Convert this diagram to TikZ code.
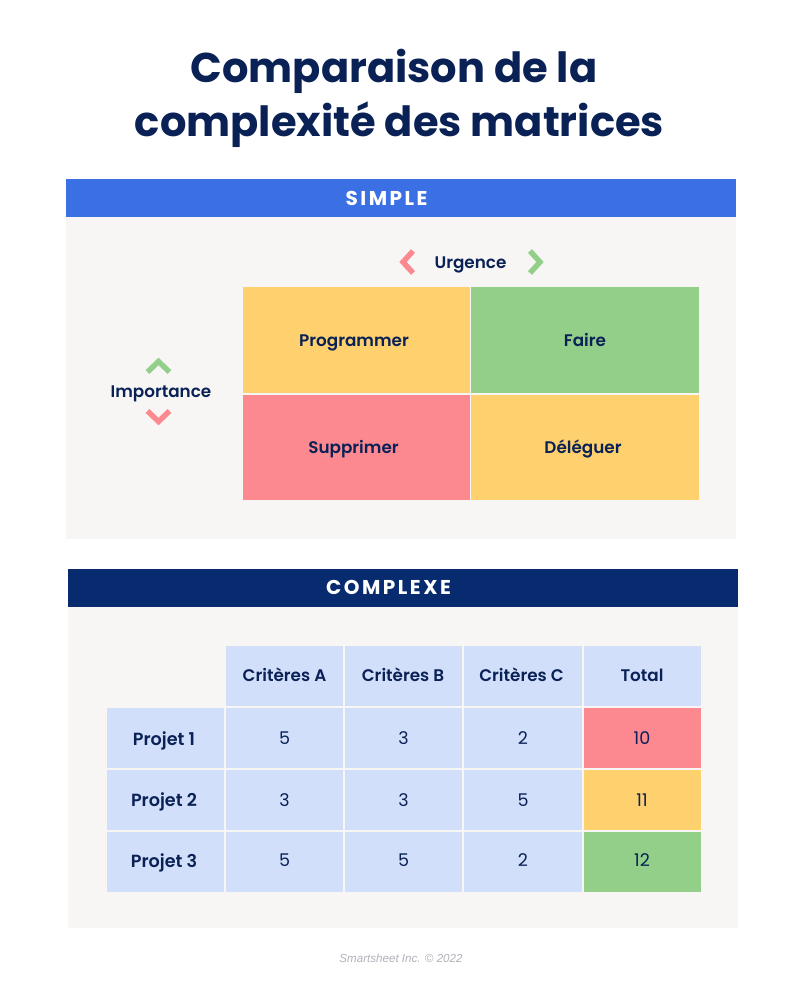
\documentclass[tikz,border=0pt]{standalone}
\usepackage{fontspec}
\setmainfont{Poppins}
\newfontfamily\semi{Poppins SemiBold}
\newfontfamily\footfont{Liberation Sans}
\definecolor{navy}{HTML}{0A2156}
\definecolor{hblue}{HTML}{3A70E3}
\definecolor{hnavy}{HTML}{082A6E}
\definecolor{panel}{HTML}{F7F6F4}
\definecolor{amber}{HTML}{FED06E}
\definecolor{mygreen}{HTML}{93CF88}
\definecolor{myred}{HTML}{FC8890}
\definecolor{cellblue}{HTML}{D2DFFB}
\definecolor{footgrey}{HTML}{B0B2BA}
\tikzset{
  x=1pt,y=-1pt,
  base/.style={inner sep=0pt,outer sep=0pt,text height=13pt,text depth=0pt},
  titletext/.style={text=navy,inner sep=0pt,font=\fontsize{41.6}{42}\selectfont\bfseries},
  header/.style={fill=#1,inner sep=0pt,minimum width=670pt,minimum height=38pt},
  headlabel/.style={text=white,inner sep=0pt,text height=14pt,text depth=0pt,font=\bfseries\fontsize{20}{20}\selectfont\addfontfeature{LetterSpace=12.5}},
  panelbox/.style={fill=panel,inner sep=0pt,minimum width=670pt},
  quad/.style={fill=#1,inner sep=0pt,minimum height=105.5pt},
  lab/.style={base,text=navy,font=\semi\fontsize{16.8}{17}\selectfont},
  rowlab/.style={base,text=navy,font=\semi\fontsize{17.6}{18}\selectfont},
  cell/.style={fill=#1,inner sep=0pt,minimum height=60pt},
  cell/.default=cellblue,
  digit/.style={base,text=navy,font=\fontsize{17.5}{18}\selectfont},
  chev/.style={draw=#1,line width=5.4pt,miter limit=10},
}
\begin{document}
\begin{tikzpicture}
\useasboundingbox (0,0) rectangle (800,993);
\fill[white] (0,0) rectangle (800,993);
\node[titletext] (t1) at (394,71) {Comparaison de la};
\node[titletext] (t2) at (399.5,125) {complexité des matrices};
% simple
\node[panelbox,minimum height=322pt] (p1) at (401,378) {};
\node[header=hblue] (h1) at (401,198) {};
\node[headlabel] (h1t) at (386.5,198) {SIMPLE};
\node[lab] (urg) at (470.5,262) {Urgence};
\node[lab] (imp) at (161,391) {Importance};
\draw[chev=myred] (413,251) -- (403,262) -- (413,273);
\draw[chev=mygreen] (530,251) -- (540,262) -- (530,273);
\draw[chev=mygreen] (147.5,372) -- (158.5,361.5) -- (169.5,372);
\draw[chev=myred] (147.5,411) -- (158.5,421.5) -- (169.5,411);
\node[quad=amber,minimum width=227pt] (a) at (356.5,339.75) {};
\node[quad=mygreen,minimum width=228pt] (b) at (585,339.75) {};
\node[quad=myred,minimum width=227pt] (c) at (356.5,447.25) {};
\node[quad=amber,minimum width=228pt] (d) at (585,447.25) {};
\node[lab] (at) at (354,339.75) {Programmer};
\node[lab] (bt) at (585,339.75) {Faire};
\node[lab] (ct) at (353.5,447.25) {Supprimer};
\node[lab] (dt) at (583,447.25) {Déléguer};
% complex
\node[panelbox,minimum height=321pt] (p2) at (403,767.5) {};
\node[header=hnavy] (h2) at (403,588) {};
\node[headlabel] (h2t) at (388.5,587.5) {COMPLEXE};
\foreach \nm/\x/\tx/\w/\txt in {ca/284.5/284.5/117/Critères A,cb/403.5/403/117/Critères B,cc/523/521.5/118/Critères C,ct/642.25/642/117.5/Total}{
  \node[cell,minimum width=\w pt] (\nm) at (\x,676) {};
  \node[lab] (\nm t) at (\tx,675) {\txt};
}
\foreach \nm/\y/\ty/\txt in {r1/738/738.5/Projet 1,r2/800/800/Projet 2,r3/862/860.5/Projet 3}{
  \node[cell,minimum width=117pt] (\nm) at (165.5,\y) {};
  \node[rowlab] (\nm t) at (164,\ty) {\txt};
}
\foreach \nm/\x/\y/\ty/\w/\txt in {
  a1/284.5/738/738/117/5,b1/403.5/738/738/117/3,c1/523/738/738/118/2,
  a2/284.5/800/799.5/117/3,b2/403.5/800/799.5/117/3,c2/523/800/799.5/118/5,
  a3/284.5/862/860/117/5,b3/403.5/862/860/117/5,c3/523/862/860/118/2}{
  \node[cell,minimum width=\w pt] (\nm) at (\x,\y) {};
  \node[digit] (\nm t) at (\x,\ty) {\txt};
}
\node[cell=myred,minimum width=117.5pt] (t1v) at (642.25,738) {};
\node[cell=amber,minimum width=117.5pt] (t2v) at (642.25,800) {};
\node[cell=mygreen,minimum width=117.5pt] (t3v) at (642.25,862) {};
\node[digit] (t1vt) at (642,738) {10};
\node[digit] (t2vt) at (642,799.5) {11};
\node[digit] (t3vt) at (642,860) {12};
\node[text=footgrey,inner sep=0pt,font=\footfont\itshape\fontsize{11.6}{12}\selectfont] (foot) at (401,958.5) {Smartsheet Inc. © 2022};
\end{tikzpicture}
\end{document}
